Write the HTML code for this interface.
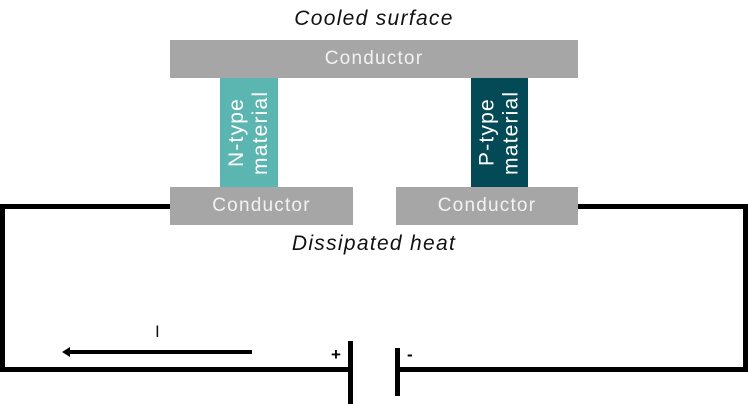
<!DOCTYPE html>
<html><head><meta charset="utf-8"><style>
body{margin:0;width:748px;height:404px;background:#fff;position:relative;overflow:hidden;font-family:"Liberation Sans",sans-serif}
.a{position:absolute}
.c{background:#a6a6a6;color:#f2f2f2;font-size:19px;letter-spacing:1.2px;text-align:center;box-sizing:border-box}
.k{background:#000}
.v{color:#fff;font-size:21px;letter-spacing:1.2px;line-height:24px;text-align:center;writing-mode:vertical-rl;transform:rotate(180deg);display:flex;align-items:center;justify-content:center}
.t{font-style:italic;font-size:21px;letter-spacing:1.3px;color:#111;text-align:center;width:748px;left:0}
</style></head><body>
<div class="a t" style="top:7px">Cooled surface</div>
<div class="a c" style="left:170px;top:40px;width:408px;height:38px;line-height:38px">Conductor</div>
<div class="a v" style="left:220px;top:78px;width:58px;height:109px;background:#5bb5b0">N-type<br>material</div>
<div class="a v" style="left:471px;top:78px;width:57px;height:109px;background:#034a56">P-type<br>material</div>
<div class="a c" style="left:170px;top:187px;width:183px;height:38px;line-height:38px">Conductor</div>
<div class="a c" style="left:396px;top:187px;width:182px;height:38px;line-height:38px">Conductor</div>
<div class="a t" style="top:232px">Dissipated heat</div>
<div class="a k" style="left:0;top:204px;width:170px;height:5px"></div>
<div class="a k" style="left:0;top:204px;width:5px;height:168px"></div>
<div class="a k" style="left:0;top:367px;width:350px;height:5px"></div>
<div class="a k" style="left:578px;top:204px;width:170px;height:5px"></div>
<div class="a k" style="left:743px;top:204px;width:5px;height:168px"></div>
<div class="a k" style="left:398px;top:367px;width:350px;height:5px"></div>
<div class="a k" style="left:348px;top:341px;width:5px;height:63px"></div>
<div class="a k" style="left:395px;top:348px;width:5px;height:48px"></div>
<div class="a" style="left:331px;top:345px;font-size:17px;font-weight:bold">+</div>
<div class="a" style="left:407px;top:345px;font-size:17px;font-weight:bold">-</div>
<div class="a k" style="left:68px;top:350px;width:184px;height:4px"></div>
<div class="a" style="left:62px;top:347px;width:0;height:0;border-top:5px solid transparent;border-bottom:5px solid transparent;border-right:8px solid #000"></div>
<div class="a" style="left:155px;top:322px;font-size:17px;color:#111">I</div>
</body></html>
